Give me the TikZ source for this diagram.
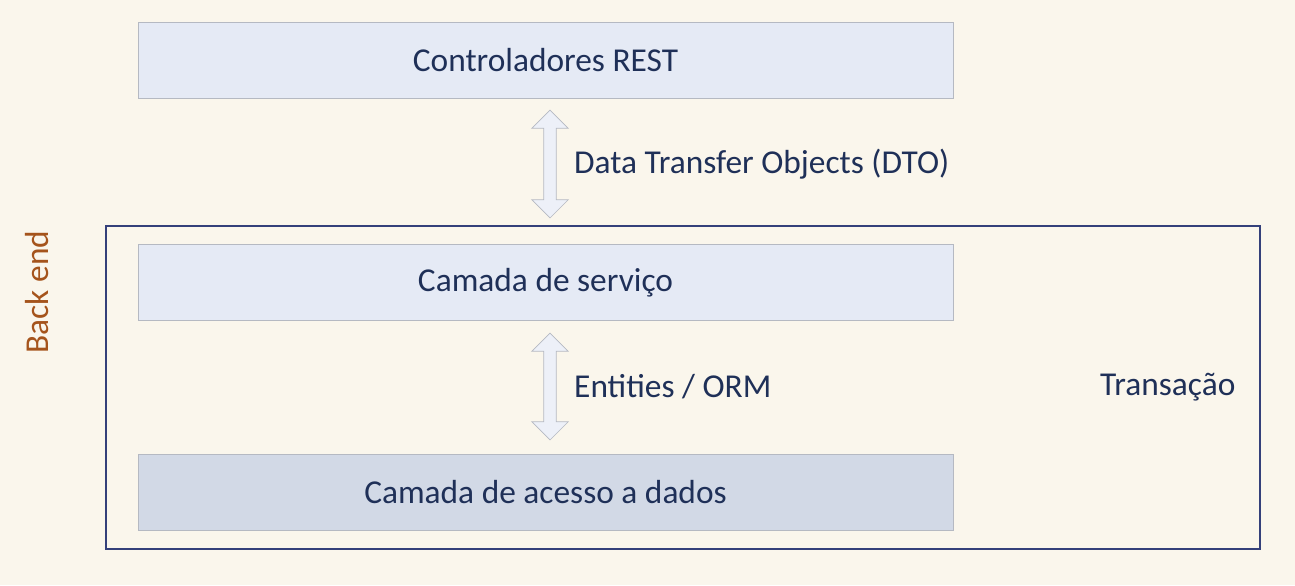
\documentclass[tikz,border=0pt]{standalone}
\usepackage{fontspec}
\setmainfont{Carlito}
\usetikzlibrary{shapes.arrows, positioning}
\definecolor{bgcream}{HTML}{FAF6EC}
\definecolor{boxfill}{HTML}{E5EAF5}
\definecolor{boxdark}{HTML}{D2D9E6}
\definecolor{boxline}{HTML}{B5B9C2}
\definecolor{navytext}{HTML}{1F3058}
\definecolor{framecol}{HTML}{34407A}
\definecolor{brownlab}{HTML}{A5541C}
\tikzstyle{LAYER} = [draw=boxline,         % light grey border
                     fill=boxfill,
                     rectangle,
                     minimum width=16.3cm,
                     minimum height=1.52cm,
                     text=navytext,
                     font=\fontsize{19}{22}\selectfont]
\tikzstyle{DARROW} = [double arrow, draw=boxline, fill=boxfill!70!white,
                     rotate=90, minimum width=0.46cm,
                     double arrow head extend=0.24cm]
\tikzstyle{LABEL}  = [anchor=west, text=navytext, font=\fontsize{19}{22}\selectfont]
\begin{document}
\begin{tikzpicture}[x=0.02cm, y=-0.02cm]

	% Background
	\fill[bgcream] (0,0) rectangle (1295,585);
	\useasboundingbox (0,0) rectangle (1295,585);

	% Transaction frame
	\draw[framecol, line width=1pt] (106,226) rectangle (1260,549);
	\node(trans)[LABEL] at (1094,387) {Transação};

	% Layers
	\node(rest)[LAYER] at (545.5,60) {Controladores REST};
	\node(serv)[LAYER] at (545.5,282.5) {Camada de serviço};
	\node(dados)[LAYER, fill=boxdark] at (545.5,492.5) {Camada de acesso a dados};

	% Arrows between layers
	\node(dto)[DARROW, minimum height=2.16cm] at (550,164) {};
	\node(orm)[DARROW, minimum height=2.14cm] at (550,386.5) {};
	\node[LABEL] at (568,164) {Data Transfer Objects (DTO)};
	\node[LABEL] at (568,386.5) {Entities / ORM};

	% Side label
	\node(back)[rotate=90, text=brownlab, font=\fontsize{19}{22}\selectfont] at (37,292) {Back end};

\end{tikzpicture}
\end{document}
